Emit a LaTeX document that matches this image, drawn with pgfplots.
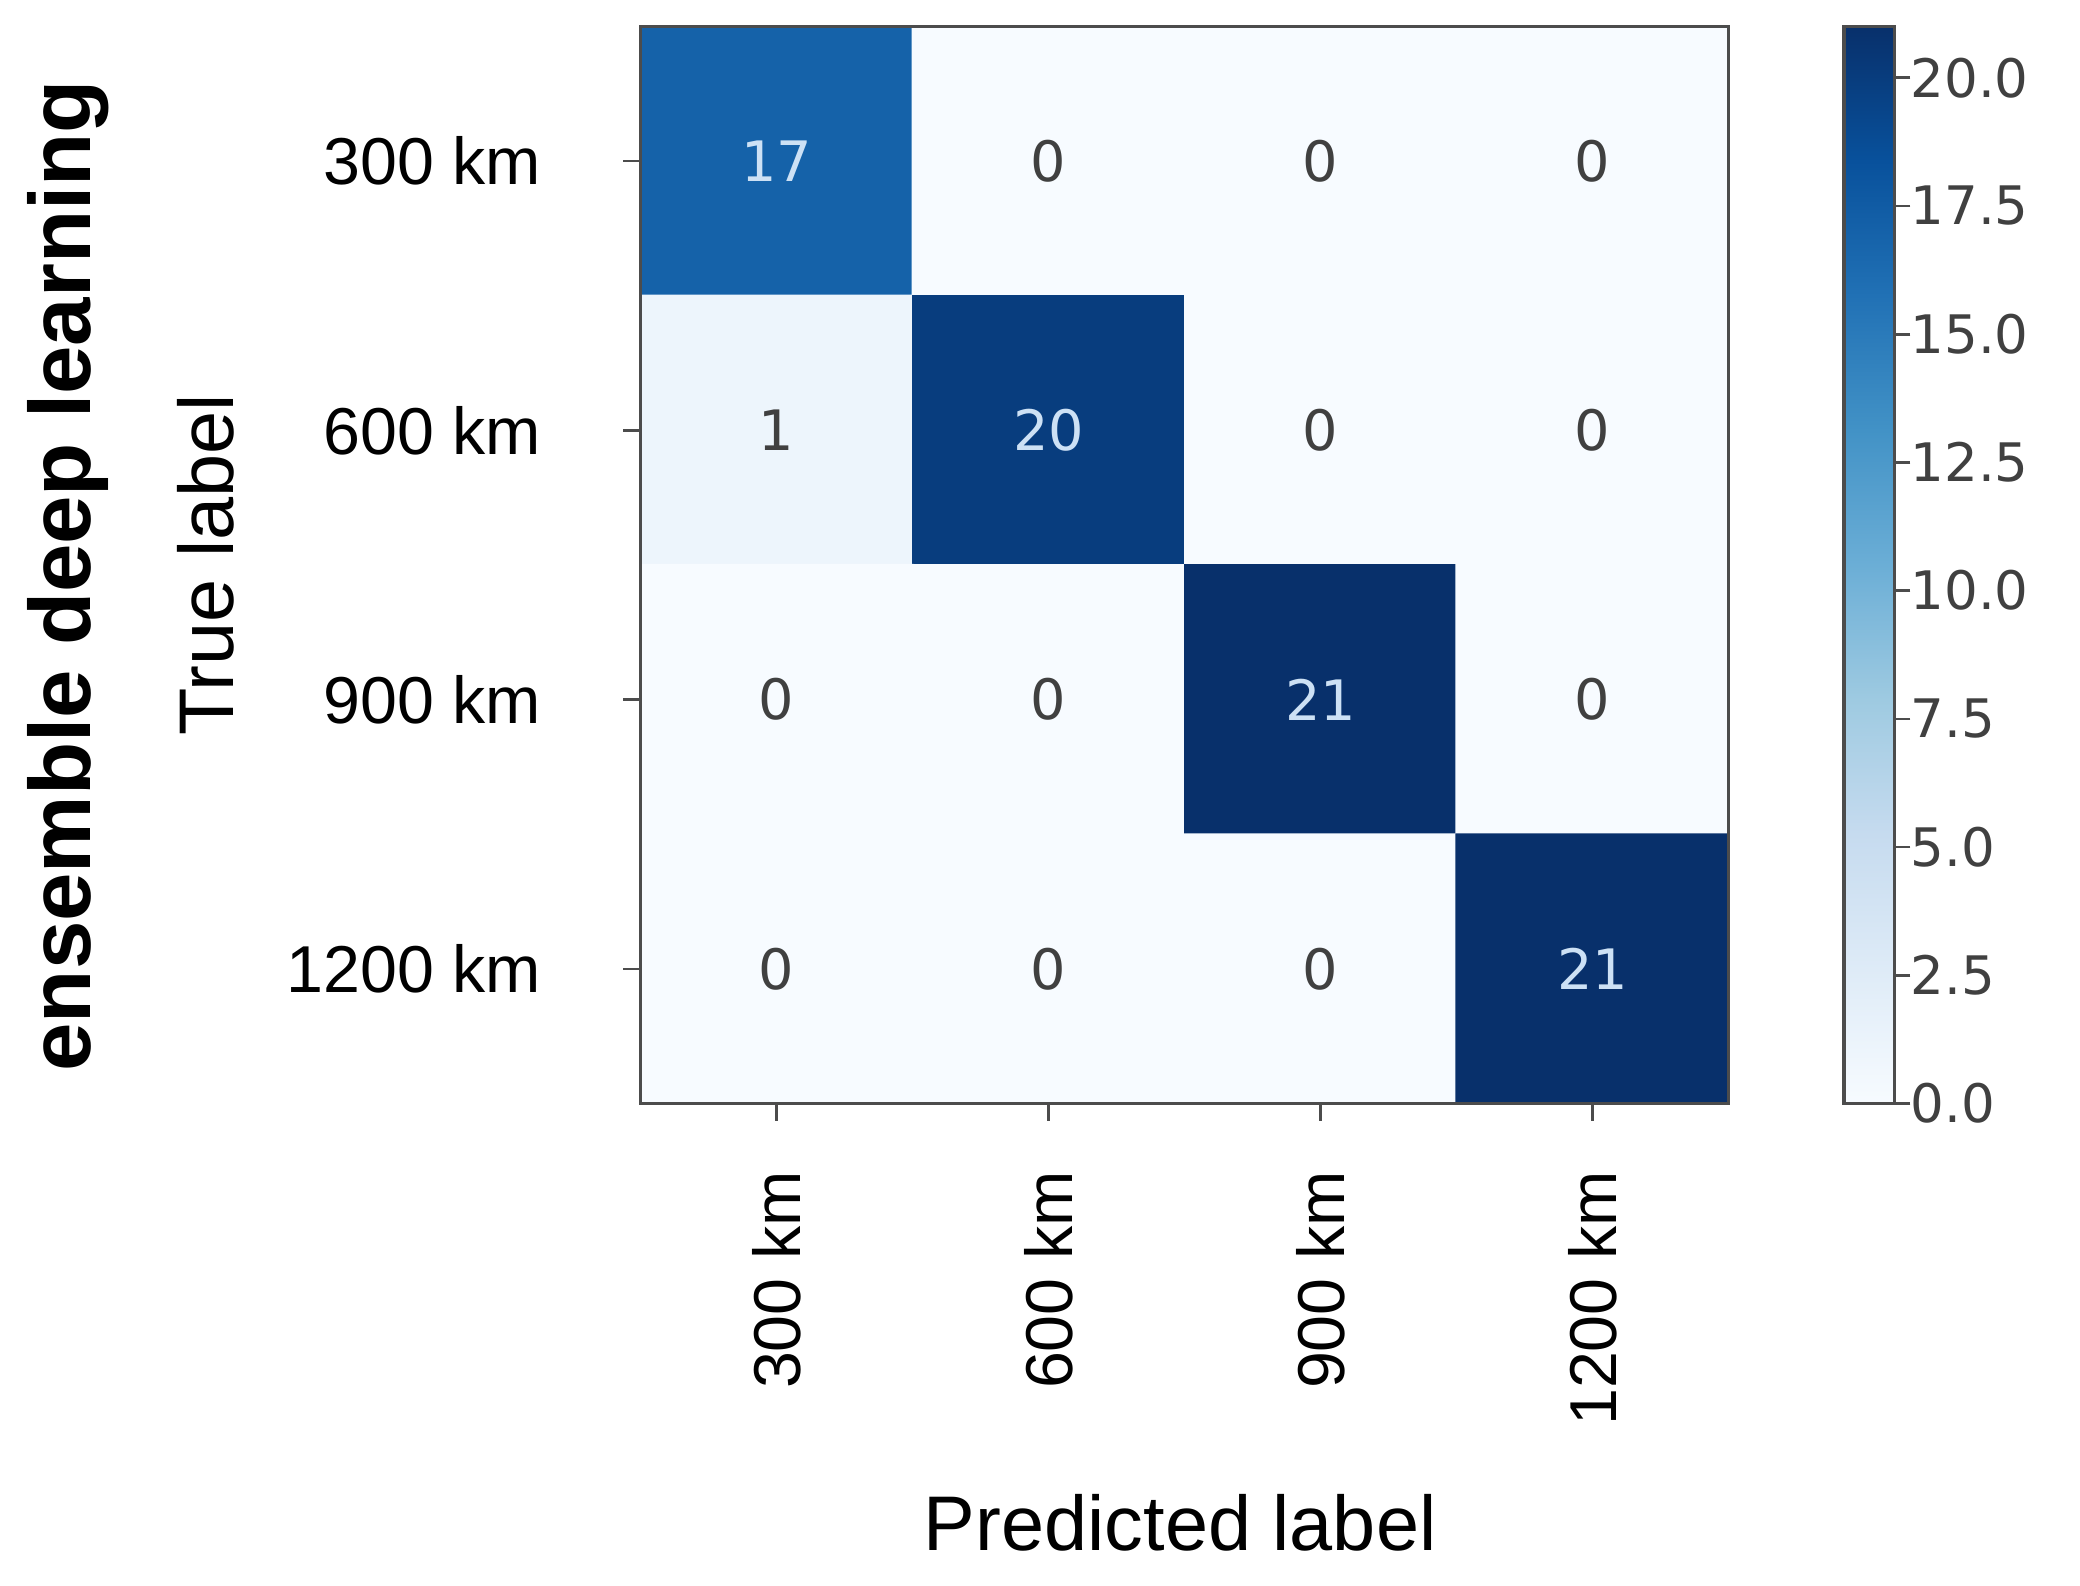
\documentclass[border=0pt]{standalone}
\usepackage{fontspec}
\setmainfont{Liberation Sans}
\newfontfamily\dejavu{DejaVu Sans}
\usepackage{pgfplots}
\pgfplotsset{compat=1.18}
\begin{document}
\begin{tikzpicture}
\begin{axis}[
  scale only axis, width=205pt, height=203pt,
  clip=false, axis on top,
  xmin=-0.5, xmax=3.5, ymin=-0.5, ymax=3.5, y dir=reverse,
  xtick={0,1,2,3}, ytick={0,1,2,3},
  xticklabels={300 km,600 km,900 km,1200 km},
  yticklabels={300 km,600 km,900 km,1200 km},
  tick align=outside, major tick length=3.25pt,
  xtick pos=bottom, ytick pos=left,
  tick style={black!70, line width=0.5pt},
  axis line style={black!70, line width=0.6pt},
  xticklabel style={yshift=-6pt, rotate=90, anchor=east, font=\fontsize{12.5}{14}\selectfont},
  yticklabel style={xshift=-12pt, anchor=east, font=\fontsize{12.5}{14}\selectfont},
  xlabel={Predicted label},
  xlabel style={at={(axis description cs:0.496,-0.389)}, anchor=center, font=\fontsize{14.6}{17}\selectfont},
  ylabel={True label},
  ylabel style={at={(axis description cs:-0.40,0.5)}, anchor=center, font=\fontsize{14.6}{17}\selectfont},
  colormap={blues}{rgb255=(247,251,255) rgb255=(222,235,247) rgb255=(198,219,239) rgb255=(158,202,225) rgb255=(107,174,214) rgb255=(66,146,198) rgb255=(33,113,181) rgb255=(8,81,156) rgb255=(8,48,107)},
  point meta min=0, point meta max=21,
  colorbar,
  colorbar style={
    at={(parent axis.north east)}, anchor=north west, xshift=13.25pt,
    width=9.5pt,
    ytick={0,2.5,5,7.5,10,12.5,15,17.5,20},
    ytick pos=right, yticklabel pos=right,
    tick align=outside, major tick length=3pt,
    tick style={black!70, line width=0.5pt},
    axis line style={black!70, line width=0.6pt},
    /pgf/number format/fixed, /pgf/number format/fixed zerofill,
    /pgf/number format/precision=1, /pgf/number format/assume math mode=true,
    yticklabel style={text=black!75, font=\dejavu\fontsize{10}{12}\selectfont, xshift=-3.5pt},
  },
]
\addplot[matrix plot*, mesh/cols=4, point meta=explicit] table[meta=v] {
x y v
0 0 17
1 0 0
2 0 0
3 0 0
0 1 1
1 1 20
2 1 0
3 1 0
0 2 0
1 2 0
2 2 21
3 2 0
0 3 0
1 3 0
2 3 0
3 3 21
};
% numbers on light cells
\addplot[draw=none, mark=none, point meta=explicit, nodes near coords,
  /pgf/number format/assume math mode=true,
  every node near coord/.append style={anchor=center, text=black!75, font=\dejavu\fontsize{10.5}{12}\selectfont}] table[meta=v] {
x y v
1 0 0
2 0 0
3 0 0
0 1 1
2 1 0
3 1 0
0 2 0
1 2 0
3 2 0
0 3 0
1 3 0
2 3 0
};
% numbers on dark cells
\addplot[draw=none, mark=none, point meta=explicit, nodes near coords,
  /pgf/number format/assume math mode=true,
  every node near coord/.append style={anchor=center, text={rgb,255:red,205;green,225;blue,245}, font=\dejavu\fontsize{10.5}{12}\selectfont}] table[meta=v] {
x y v
0 0 17
1 1 20
2 2 21
3 3 21
};
\node[rotate=90, anchor=center, font=\bfseries\fontsize{16.4}{19}\selectfont] at (axis description cs:-0.526,0.49) {ensemble deep learning};
\path (axis description cs:-0.589,1.0246) rectangle (axis description cs:1.3232,-0.447);
\end{axis}
\end{tikzpicture}
\end{document}
